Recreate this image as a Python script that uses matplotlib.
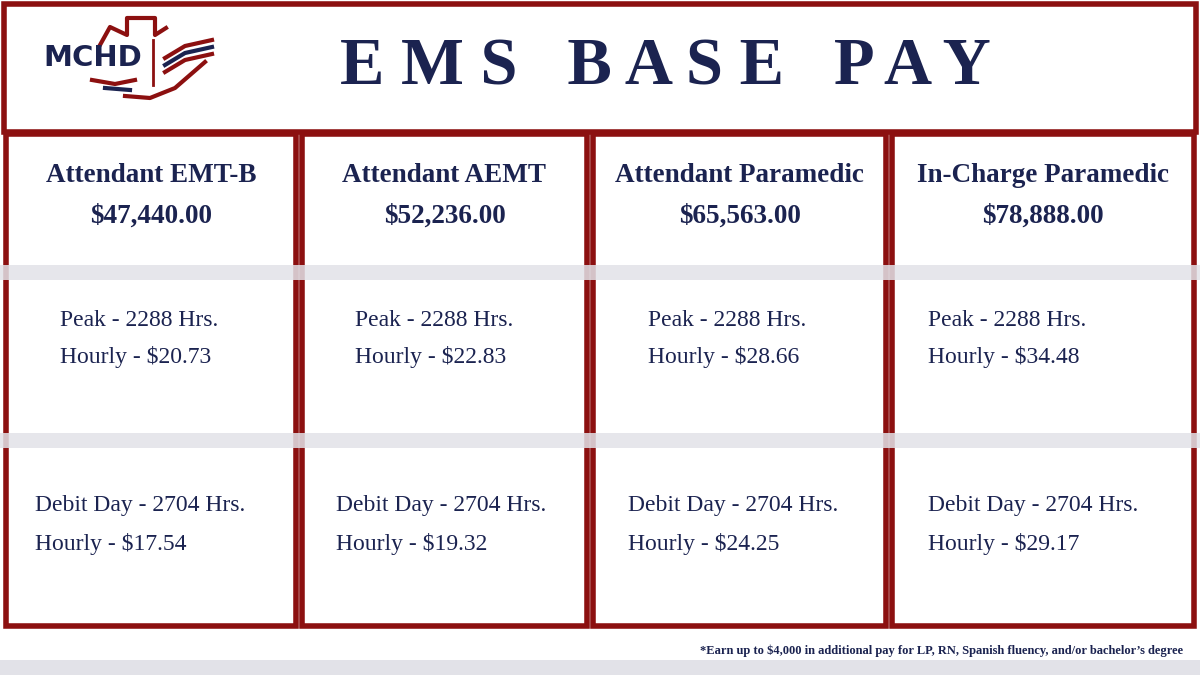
import matplotlib
matplotlib.use('Agg')
import matplotlib.pyplot as plt
from matplotlib.patches import Rectangle

# Data
positions = ['Attendant EMT-B', 'Attendant AEMT', 'Attendant Paramedic', 'In-Charge Paramedic']
annual_pay = ['$47,440.00', '$52,236.00', '$65,563.00', '$78,888.00']
peak_hours = [2288, 2288, 2288, 2288]
peak_hourly = ['$20.73', '$22.83', '$28.66', '$34.48']
debit_hours = [2704, 2704, 2704, 2704]
debit_hourly = ['$17.54', '$19.32', '$24.25', '$29.17']
footnote = '*Earn up to $4,000 in additional pay for LP, RN, Spanish fluency, and/or bachelor\u2019s degree'

RED = '#8c1010'
NAVY = '#1b2350'
GRAY = '#e2e2e8'
SERIF = ['Liberation Serif', 'DejaVu Serif']

fig = plt.figure(figsize=(12, 6.75), dpi=100)
ax = fig.add_axes([0, 0, 1, 1])
ax.set_xlim(0, 1200)
ax.set_ylim(675, 0)
ax.axis('off')

# gray bands (semi-transparent over the borders)
for y0 in (265, 433):
    ax.add_patch(Rectangle((0, y0), 1200, 15, color=GRAY, alpha=0.85, lw=0, zorder=3))
ax.add_patch(Rectangle((0, 660), 1200, 15, color=GRAY, lw=0, zorder=1))

# header box
ax.add_patch(Rectangle((4, 4), 1192, 128, fill=False, ec=RED, lw=4, zorder=2))
ax.text(665, 68, 'E M S   B A S E   P A Y', color=NAVY, fontsize=48, fontweight='bold',
        family=SERIF, ha='center', va='center')

# logo
ax.plot([100, 110, 127, 127, 155, 155, 166], [45, 27, 35, 18, 18, 35, 28], color=RED, lw=3)
ax.plot([153, 153], [40, 85], color=RED, lw=2)
ax.text(93, 58, 'MCHD', color=NAVY, fontsize=21, fontweight='bold', family='DejaVu Sans',
        ha='center', va='center')
for dy, c in [(0, RED), (7, NAVY), (14, RED)]:
    ax.plot([165, 185, 212], [58 + dy, 46 + dy, 40 + dy], color=c, lw=3)
ax.plot([92, 115, 135], [80, 84, 80], color=RED, lw=3)
ax.plot([105, 130], [88, 90], color=NAVY, lw=3)
ax.plot([125, 150, 175, 205], [96, 98, 88, 62], color=RED, lw=3)

# columns
cols = [(4, 298), (300, 589), (591, 888), (890, 1196)]
for i, (x0, x1) in enumerate(cols):
    ax.add_patch(Rectangle((x0 + 2, 134), x1 - x0 - 4, 492, fill=False, ec=RED, lw=4, zorder=2))
    cx = (x0 + x1) / 2
    ax.text(cx, 175, positions[i], color=NAVY, fontsize=19.5, fontweight='bold', family=SERIF,
            ha='center', va='center')
    ax.text(cx, 216, annual_pay[i], color=NAVY, fontsize=19.5, fontweight='bold', family=SERIF,
            ha='center', va='center')
    px = [60, 355, 648, 928][i]
    ax.text(px, 320, f'Peak - {peak_hours[i]} Hrs.', color=NAVY, fontsize=17, family=SERIF,
            ha='left', va='center')
    ax.text(px, 357, f'Hourly - {peak_hourly[i]}', color=NAVY, fontsize=17, family=SERIF,
            ha='left', va='center')
    dx = [35, 336, 628, 928][i]
    ax.text(dx, 506, f'Debit Day - {debit_hours[i]} Hrs.', color=NAVY, fontsize=17, family=SERIF,
            ha='left', va='center')
    ax.text(dx, 544, f'Hourly - {debit_hourly[i]}', color=NAVY, fontsize=17, family=SERIF,
            ha='left', va='center')

ax.text(1183, 651, footnote, color=NAVY, fontsize=9, fontweight='bold', family=SERIF,
        ha='right', va='center')

fig.savefig('out.png', dpi=100)
